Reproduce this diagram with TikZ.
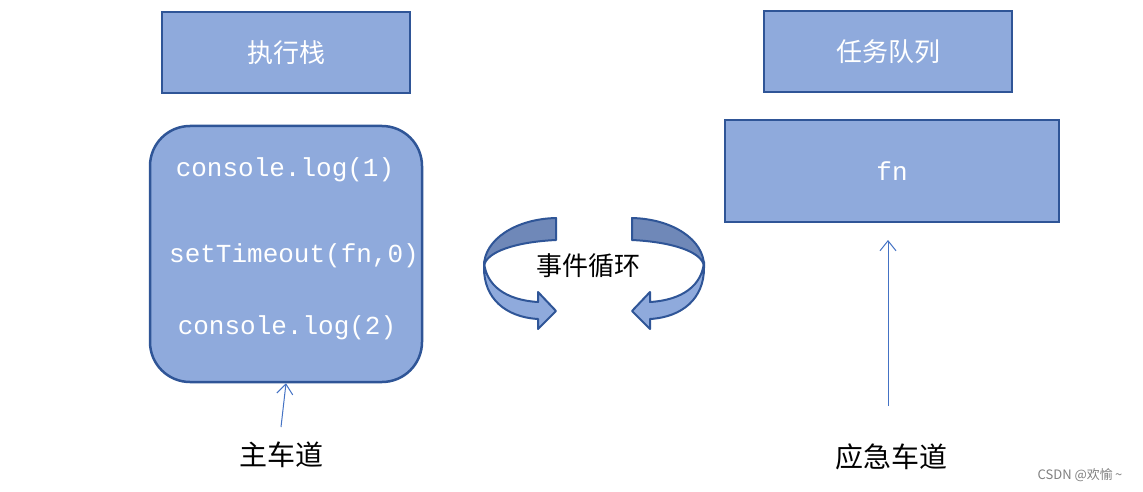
\documentclass[tikz,border=0pt]{standalone}
\usepackage{fontspec}
\setmainfont{Liberation Sans}
\newfontfamily\cjk{Noto Sans CJK SC}
\newfontfamily\mono{Liberation Mono}
\usetikzlibrary{arrows.meta}
\definecolor{bfill}{HTML}{8FAADC}
\definecolor{bdraw}{HTML}{2F5597}
\definecolor{dark}{HTML}{6F88B8}
\definecolor{lin}{HTML}{4472C4}
\newcommand\myloopshape{%
\path[ring,fill=bfill] (484,262) .. controls (486,285) and (505,300) .. (538,302)
  -- (538,292) -- (556,311) -- (538,329) -- (538,319)
  .. controls (505,317) and (484,298) .. (484,268) -- cycle;
\path[ring,fill=dark] (556,218) -- (556,240) .. controls (515,242) and (486,252) .. (484,266)
  .. controls (484,240) and (515,219) .. (556,218) -- cycle;}
\begin{document}
\begin{tikzpicture}[x=1pt,y=-1pt,
  box/.style={draw=bdraw,fill=bfill,line width=2.5pt},
  title/.style={text=white,font=\cjk\fontsize{26}{30}\selectfont},
  code/.style={text=white,font=\mono\fontsize{26}{30}\selectfont},
  lab/.style={font=\cjk\fontsize{28}{32}\selectfont},
  up/.style={draw=lin,line width=1pt,-{Straight Barb[length=10pt,width=16pt,line width=1pt]}},
  ring/.style={draw=bdraw,line width=2pt,line join=round}]
\useasboundingbox (0,0) rectangle (1143,492);
\fill[white] (0,0) rectangle (1143,492);
\node[box,minimum width=248pt,minimum height=81pt,title] (t1) at (286,52.5) {执行栈};
\node[box,minimum width=248pt,minimum height=81pt,title] (t2) at (888,51.5) {任务队列};
\node[box,minimum width=334pt,minimum height=102pt,code] (q) at (892,171) {fn};
\node[box,rounded corners=40pt,minimum width=272pt,minimum height=256pt] (s) at (286,254) {};
\node[code] (c1) at (285,170) {console.log(1)};
\node[code] (c2) at (294,256) {setTimeout(fn,0)};
\node[code] (c3) at (287,328) {console.log(2)};
\node[lab] (m) at (281,455) {主车道};
\node[lab] (e) at (891,457) {应急车道};
\coordinate (m0) at (281,427);
\coordinate (e0) at (888,406);
\coordinate (e1) at (888,240);
\draw[up] (m0) -- (s.south);
\draw[up] (e0) -- (e1);
\node[font=\cjk\fontsize{26}{30}\selectfont] (loop) at (588,266) {事件循环};
\begin{scope}\myloopshape\end{scope}
\begin{scope}[xshift=1188pt,xscale=-1]\myloopshape\end{scope}
\node[text=gray,font=\cjk\fontsize{13}{15}\selectfont] (w) at (1080,475) {CSDN @欢愉\,\textasciitilde};
\end{tikzpicture}
\end{document}
